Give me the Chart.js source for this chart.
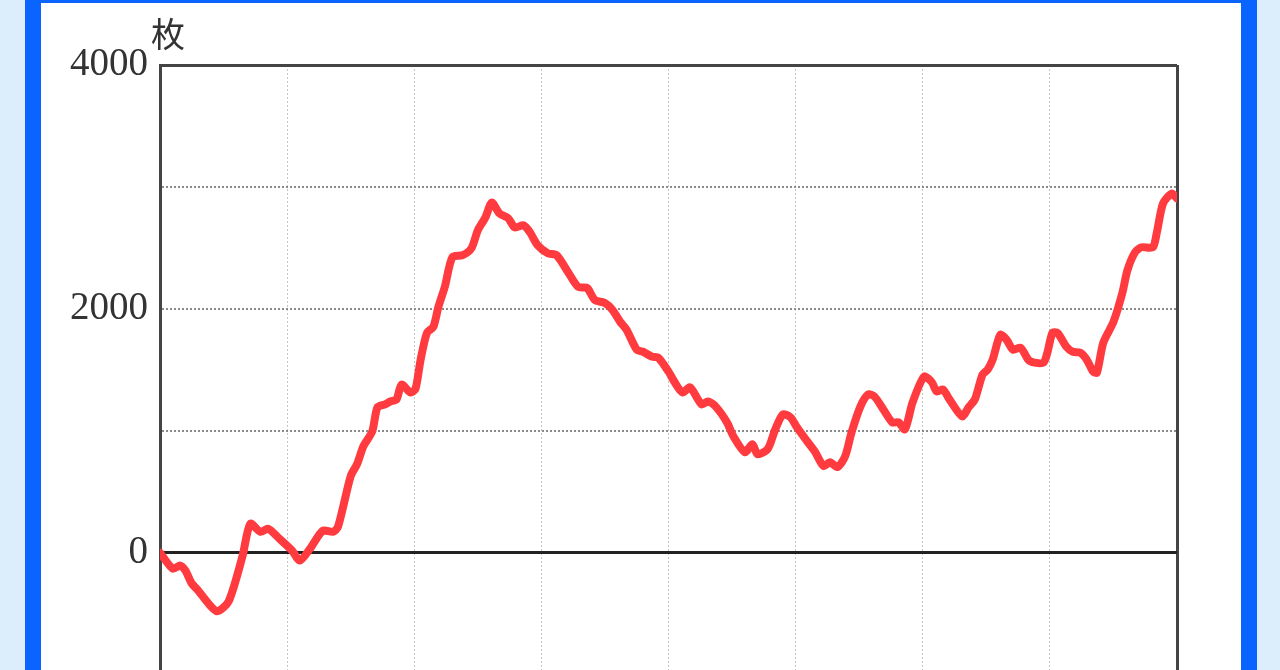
<!DOCTYPE html>
<html>
<head>
<meta charset="utf-8">
<script src="https://cdn.jsdelivr.net/npm/chart.js@4/dist/chart.umd.min.js"></script>
<style>
  html, body { margin: 0; padding: 0; overflow: hidden; }
  body { width: 1280px; height: 670px; background: #dcedfb; position: relative; }
  #panel {
    position: absolute; left: 25px; top: 0; width: 1200px; height: 700px;
    background: #fff; border: 16px solid #0a64ff; border-top-width: 3px;
  }
  #chart { position: absolute; left: 0; top: 0; }
  #unit {
    position: absolute; left: 151px; top: 8px; font-family: "Noto Sans CJK JP", sans-serif;
    font-size: 34px; color: #333;
  }
</style>
</head>
<body>
<div id="panel"></div>
<canvas id="chart" width="1280" height="710"></canvas>
<div id="unit">枚</div>
<script>
// day index along the horizontal axis, and coin balance (枚)
const days = [0, 10, 16, 20, 25, 30, 38, 45, 54, 65, 71, 79, 85, 94, 104, 110, 118, 128, 136, 140,
  150, 155, 160, 167, 171, 177, 181, 186, 190, 197, 201, 205, 210, 215, 219, 224, 230, 238, 245, 250,
  256, 261, 267, 274, 279, 286, 291, 297, 305, 312, 321, 329, 336, 342, 350, 356, 362, 367, 375, 380,
  387, 392, 400, 405, 411, 417, 426, 431, 437, 446, 451, 460, 466, 470, 478, 484, 490, 496, 501, 509,
  515, 522, 527, 533, 539, 544, 551, 557, 562, 569, 576, 581, 586, 592, 601, 607, 611, 616, 621, 631,
  636, 641, 647, 651, 655, 661, 666, 671, 677, 683, 688, 695, 698, 702, 706, 713, 718, 724, 729, 734,
  737, 742, 750, 757, 761, 767, 772, 781, 784, 789, 796, 800];
const coins = [0, -131, -106, -147, -253, -310, -416, -481, -400, -24, 237, 171, 196, 114, 16, -65, 33, 180, 171, 212,
  628, 726, 873, 996, 1191, 1216, 1240, 1257, 1379, 1314, 1345, 1583, 1803, 1852, 2016, 2179, 2424, 2440, 2497, 2644,
  2750, 2872, 2783, 2742, 2668, 2685, 2628, 2522, 2456, 2440, 2301, 2179, 2171, 2073, 2048, 1991, 1893, 1828, 1665, 1648,
  1608, 1599, 1485, 1395, 1314, 1355, 1216, 1240, 1200, 1069, 955, 824, 889, 808, 849, 1012, 1134, 1110, 1028, 914,
  832, 710, 742, 702, 792, 987, 1200, 1297, 1281, 1175, 1069, 1069, 1012, 1232, 1444, 1400, 1322, 1338, 1257, 1118,
  1191, 1257, 1461, 1501, 1583, 1787, 1746, 1665, 1681, 1583, 1559, 1559, 1640, 1803, 1803, 1689, 1648, 1640, 1583, 1485,
  1477, 1722, 1893, 2130, 2317, 2464, 2505, 2505, 2619, 2864, 2946, 2905];
const yLabels = [4000, 2000, 0];

const points = days.map((d, i) => ({ x: d, y: coins[i] }));

new Chart(document.getElementById("chart"), {
  type: "line",
  data: {
    datasets: [{
      data: points,
      borderColor: "#ff3b3f",
      borderWidth: 8,
      borderJoinStyle: "round",
      borderCapStyle: "round",
      pointRadius: 0,
      tension: 0.25
    }]
  },
  options: {
    responsive: false,
    animation: false,
    layout: { padding: { top: 65, right: 103, bottom: 5, left: 0 } },
    plugins: { legend: { display: false }, tooltip: { enabled: false } },
    scales: {
      x: {
        type: "linear",
        min: 0,
        max: 800,
        ticks: { display: false, stepSize: 100 },
        afterFit: (s) => { s.height = 0; },
        border: {
          display: false,
          dash: (ctx) => (ctx.tick && (ctx.tick.value === 0 || ctx.tick.value === 800)) ? [] : [2, 2]
        },
        grid: {
          drawTicks: false,
          color: (ctx) => (ctx.tick.value === 0 || ctx.tick.value === 800) ? "#444" : "#c4c4c4",
          lineWidth: (ctx) => (ctx.tick.value === 0 || ctx.tick.value === 800) ? 3 : 1
        }
      },
      y: {
        min: -1000,
        max: 4000,
        afterFit: (s) => { s.width = 160; },
        ticks: {
          stepSize: 1000,
          padding: 12,
          color: "#333",
          font: { family: "'Liberation Serif', serif", size: 39 },
          callback: (v) => yLabels.includes(v) ? String(v) : ""
        },
        border: {
          display: true,
          width: 3,
          color: "#444",
          dash: (ctx) => (ctx.tick && (ctx.tick.value === 0 || ctx.tick.value === 4000)) ? [] : [2, 2]
        },
        grid: {
          drawTicks: false,
          color: (ctx) => {
            if (ctx.tick.value === 0) return "#222";
            if (ctx.tick.value === 4000) return "#444";
            return "#8a8a8a";
          },
          lineWidth: (ctx) => (ctx.tick.value === 0 || ctx.tick.value === 4000) ? 3 : 2
        }
      }
    }
  }
});
</script>
</body>
</html>
